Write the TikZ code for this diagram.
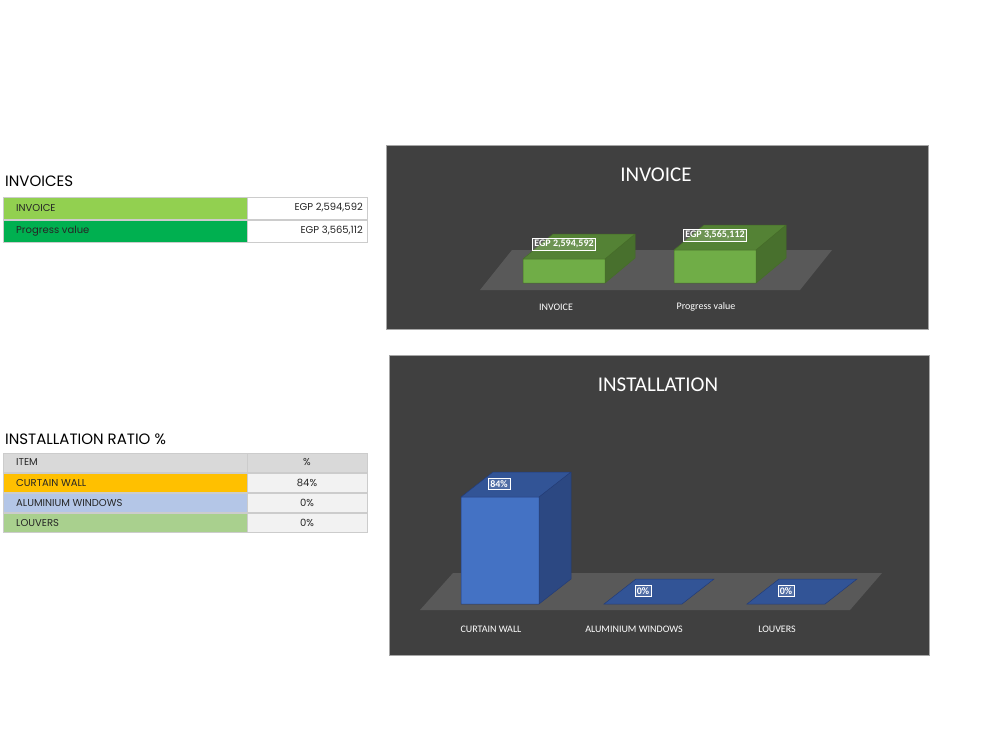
\documentclass[tikz,border=0pt]{standalone}
\usepackage{fontspec}
\setmainfont{Carlito}
\newfontfamily\tabfont{Poppins}
\definecolor{gtop}{RGB}{84,130,53}
\definecolor{gside}{RGB}{72,112,45}
\definecolor{gfront}{RGB}{112,173,71}
\definecolor{gedge}{RGB}{70,110,40}
\definecolor{btop}{RGB}{50,84,150}
\definecolor{bside}{RGB}{44,72,130}
\definecolor{bedge}{RGB}{35,60,120}
\definecolor{bfront}{RGB}{68,114,196}
\definecolor{lgreen}{RGB}{146,208,80}
\definecolor{dgreen}{RGB}{0,176,80}
\definecolor{orng}{RGB}{255,192,0}
\definecolor{lblue}{RGB}{180,198,231}
\definecolor{sgreen}{RGB}{169,208,142}
\definecolor{hgrey}{RGB}{217,217,217}
\begin{document}
\begin{tikzpicture}[x=1pt,y=-1pt,
  cell/.style={draw=white!80!black,line width=0.8pt},
  ttxt/.style={font=\tabfont\fontsize{10}{12}\selectfont,text=black!85,inner sep=0pt},
  panel/.style={fill=black!75,draw=black!35},
  floor/.style={fill=black!65},
  lbl/.style={draw=white!60,fill=white,fill opacity=0.15,text opacity=1,text=white,font=\bfseries\fontsize{10}{12}\selectfont,inner sep=2pt},
  cat/.style={text=white!80,font=\fontsize{10}{12}\selectfont},
  ctitle/.style={text=white,font=\fontsize{21}{24}\selectfont}]
\useasboundingbox (0,0) rectangle (1000,750);
% table 1
\node[anchor=west,font=\tabfont\fontsize{15}{18}\selectfont,inner sep=0pt] (t1) at (5,181) {INVOICES};
\draw[cell,fill=lgreen] (3,197) rectangle (247,219);
\draw[cell,fill=dgreen] (3,220) rectangle (247,242);
\draw[cell,fill=white] (247,197) rectangle (367,219);
\draw[cell,fill=white] (247,220) rectangle (367,242);
\node[ttxt,anchor=west] (a1) at (16,208) {INVOICE};
\node[ttxt,anchor=west] (a2) at (16,231) {Progress value};
\node[ttxt,anchor=east] (b1) at (363,208) {EGP 2,594,592};
\node[ttxt,anchor=east] (b2) at (363,231) {EGP 3,565,112};
% table 2
\node[anchor=west,font=\tabfont\fontsize{15}{18}\selectfont,inner sep=0pt] (t2) at (5,439) {INSTALLATION RATIO \%};
\foreach \y/\c/\v/\t in {453/hgrey/\%/ITEM,473/orng/84\%/CURTAIN WALL,493/lblue/0\%/ALUMINIUM WINDOWS,513/sgreen/0\%/LOUVERS}{
  \draw[cell,fill=\c] (3,\y) rectangle (247,\y+19);
  \draw[cell,fill=black!5] (247,\y) rectangle (367,\y+19);
  \node[ttxt,anchor=west] at (16,\y+9.5) {\t};
  \node[ttxt] at (307,\y+9.5) {\v};
}
\draw[cell,fill=hgrey] (247,453) rectangle (367,472);
\node[ttxt] at (307,462.5) {\%};
% chart 1
\draw[panel] (386,145) rectangle (928,329);
\node[ctitle] (c1) at (656,175) {INVOICE};
\fill[floor] (480,290) -- (800,290) -- (832,250) -- (512,250) -- cycle;
\foreach \x/\t in {523/259,674/250}{
  \fill[gtop] (\x,\t) -- (\x+30,\t-25) -- (\x+112,\t-25) -- (\x+82,\t) -- cycle;
  \fill[gside] (\x+82,\t) -- (\x+112,\t-25) -- (\x+112,258) -- (\x+82,283) -- cycle;
  \fill[gfront] (\x,\t) rectangle (\x+82,283);
  \draw[gedge,line width=0.5pt] (\x,283) -- (\x,\t) -- (\x+30,\t-25) -- (\x+112,\t-25) -- (\x+112,258) -- (\x+82,283) -- cycle (\x+82,283) -- (\x+82,\t) -- (\x,\t) (\x+82,\t) -- (\x+112,\t-25);
}
\node[lbl] (v1) at (564,244) {EGP 2,594,592};
\node[lbl] (v2) at (715,235) {EGP 3,565,112};
\node[cat] (k1) at (556,307) {INVOICE};
\node[cat] (k2) at (706,307) {Progress value};
% chart 2
\draw[panel] (389,355) rectangle (929,655);
\node[ctitle] (c2) at (658,385) {INSTALLATION};
\fill[floor] (420,610) -- (850,610) -- (882,573) -- (453,573) -- cycle;
\fill[btop] (461,497) -- (493,472) -- (571,472) -- (539,497) -- cycle;
\fill[bside] (539,497) -- (571,472) -- (571,579) -- (539,604) -- cycle;
\fill[bfront] (461,497) rectangle (539,604);
\draw[bedge,line width=0.5pt] (461,604) -- (461,497) -- (493,472) -- (571,472) -- (571,579) -- (539,604) -- cycle (539,604) -- (539,497) -- (461,497) (539,497) -- (571,472);
\foreach \x in {604,747}{
  \draw[bedge,fill=btop,line width=0.5pt] (\x,604) -- (\x+32,579) -- (\x+110,579) -- (\x+78,604) -- cycle;
}
\node[lbl] (p1) at (499,484) {84\%};
\node[lbl] (p2) at (643,591) {0\%};
\node[lbl] (p3) at (786,591) {0\%};
\node[cat] (m1) at (491,629) {CURTAIN WALL};
\node[cat] (m2) at (634,629) {ALUMINIUM WINDOWS};
\node[cat] (m3) at (777,629) {LOUVERS};
\end{tikzpicture}
\end{document}
